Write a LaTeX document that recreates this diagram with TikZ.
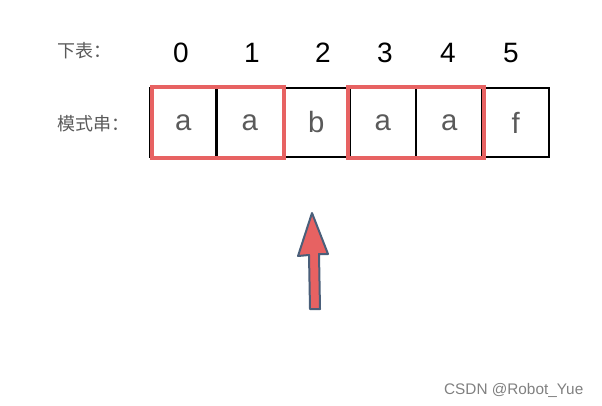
\documentclass[tikz,border=0pt]{standalone}
\usepackage{fontspec}
\setmainfont{Liberation Sans}
\newfontfamily\cjk{Noto Sans CJK SC}
\usepackage{xcolor}
\definecolor{redbox}{RGB}{231,98,98}
\definecolor{textgray}{RGB}{90,90,90}
\definecolor{arrowline}{RGB}{74,95,122}
\usetikzlibrary{positioning}

\begin{document}
\begin{tikzpicture}[x=0.75pt,y=-0.75pt,
    cell/.style={draw=black,line width=1.5pt,minimum width=49.9pt,minimum height=51.75pt,
        inner sep=0pt,text=textgray,font=\fontsize{22}{26}\selectfont},
    idx/.style={font=\fontsize{21}{25}\selectfont},
    lbl/.style={anchor=west,text=textgray,font=\cjk\fontsize{13.5}{16}\selectfont}]
        \useasboundingbox (0,0) rectangle (602,406);
        % pattern cells
        \foreach \ch [count=\i from 0] in {a,a,b,a,a,f}
            \node[cell] (c\i) at (183.25+66.5*\i,122.5) {\raisebox{-1.5pt}{\ch}};
        % indices
        \foreach \x [count=\i from 0] in {181,252,323,385,448,511}
            \node[idx] (n\i) at (\x,53) {\i};
        \node[lbl] (lidx) at (53,51) {下表：};
        \node[lbl] (lpat) at (53,124) {模式串：};
        % matched parts
        \draw[draw=redbox,line width=3pt] ([xshift=2pt]c0.north west) rectangle (c1.south east);
        \draw[draw=redbox,line width=3pt] (c3.north west) rectangle (c4.south east);
        % pointer
        \draw[draw=arrowline,fill=redbox,line width=1.5pt,line join=round]
            (312,213) -- (328,254) -- (319,254) -- (320,309) -- (310,309)
            -- (309,255) -- (298,256) -- cycle;
        \node[anchor=east,text=gray,font=\fontsize{11.5}{13}\selectfont] (mark) at (588,390) {CSDN @Robot\_Yue};
    \end{tikzpicture}
\end{document}
